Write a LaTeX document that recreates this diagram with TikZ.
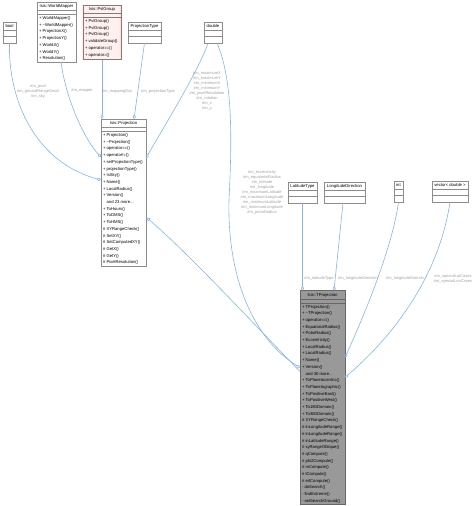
\documentclass[tikz,border=0pt]{standalone}
\usepackage{fontspec}
\setmainfont{Liberation Sans}
\usetikzlibrary{arrows.meta}

\definecolor{edgeblue}{RGB}{135,180,228}
\definecolor{labgray}{RGB}{160,160,160}
\definecolor{boxgray}{RGB}{140,140,140}
\definecolor{mainfill}{RGB}{153,153,153}
\definecolor{mainline}{RGB}{102,102,102}
\definecolor{trunred}{RGB}{230,80,80}
\definecolor{trunfill}{RGB}{255,240,240}
\newcommand\moreitems[1]{\hphantom{+ }and #1 more...}

\begin{document}
\begin{tikzpicture}[x=1pt, y=-1pt, line width=0.5pt,
	every node/.style={inner sep=0pt, outer sep=0pt},
	cls/.style={draw=boxgray, fill=white, anchor=north west},
	ttl/.style={font=\fontsize{4.2}{5}\selectfont, anchor=base},
	mth/.style={font=\fontsize{4.2}{5}\selectfont, anchor=base west},
	lab/.style={font=\fontsize{4}{5}\selectfont, text=labgray, align=center},
	uses/.style={draw=edgeblue, line width=0.6pt, -{Diamond[open, length=4.5pt, width=3.2pt]}},
	isa/.style={draw=edgeblue, line width=0.6pt, -{Triangle[open, length=4.5pt, width=3.6pt]}}]
	\useasboundingbox (0,0) rectangle (474,506);
	% class boxes
	\node[cls, minimum width=13pt, minimum height=21pt] (bool) at (3,22) {};
	\node[cls, minimum width=39pt, minimum height=60pt] (wm) at (37,2) {};
	\node[cls, draw=trunred, fill=trunfill, minimum width=38pt, minimum height=54.5pt] (pvl) at (83,5) {};
	\node[cls, minimum width=33pt, minimum height=21pt] (ptype) at (128,22) {};
	\node[cls, minimum width=18pt, minimum height=21pt] (dbl) at (204,22) {};
	\node[cls, minimum width=45pt, minimum height=147.3pt] (proj) at (101,119) {};
	\node[cls, minimum width=29pt, minimum height=21pt] (lat) at (288,182) {};
	\node[cls, minimum width=41pt, minimum height=21pt] (londir) at (324,182) {};
	\node[cls, minimum width=9pt, minimum height=21pt] (int) at (394,181) {};
	\node[cls, minimum width=36pt, minimum height=21pt] (vecdbl) at (432,181) {};
	\node[cls, draw=mainline, fill=mainfill, minimum width=45pt, minimum height=213.8pt] (tproj) at (300,290.5) {};
	% compartments
	\foreach \c in {bool,ptype,dbl,lat,londir,int,vecdbl}
		\draw[boxgray] ([yshift=-8pt]\c.north west) -- ([yshift=-8pt]\c.north east)
			([yshift=-14.5pt]\c.north west) -- ([yshift=-14.5pt]\c.north east);
	\foreach \c/\col in {wm/boxgray,pvl/trunred,proj/boxgray,tproj/mainline}
		\draw[\col] ([yshift=-8.5pt]\c.north west) -- ([yshift=-8.5pt]\c.north east)
			([yshift=-12.5pt]\c.north west) -- ([yshift=-12.5pt]\c.north east);
	% titles
	\node[ttl] (bool-t) at ([yshift=-5.5pt]bool.north) {bool};
	\node[ttl] (wm-t) at ([yshift=-5.5pt]wm.north) {Isis::WorldMapper};
	\node[ttl] (pvl-t) at ([yshift=-5.5pt]pvl.north) {Isis::PvlGroup};
	\node[ttl] (ptype-t) at ([yshift=-5.5pt]ptype.north) {ProjectionType};
	\node[ttl] (dbl-t) at ([yshift=-5.5pt]dbl.north) {double};
	\node[ttl] (proj-t) at ([yshift=-5.5pt]proj.north) {Isis::Projection};
	\node[ttl] (lat-t) at ([yshift=-5.5pt]lat.north) {LatitudeType};
	\node[ttl] (londir-t) at ([yshift=-5.5pt]londir.north) {LongitudeDirection};
	\node[ttl] (int-t) at ([yshift=-5.5pt]int.north) {int};
	\node[ttl] (vecdbl-t) at ([yshift=-5.5pt]vecdbl.north) {vector< double >};
	\node[ttl] (tproj-t) at ([yshift=-5.5pt]tproj.north) {Isis::TProjection};
	% methods
	\foreach \m [count=\i from 0] in {+ WorldMapper(), + \textasciitilde WorldMapper(), + ProjectionX(), + ProjectionY(), + WorldX(), + WorldY(), + Resolution()}
		\node[mth] (wm-m\i) at ([xshift=2pt, yshift={-17.5pt-6.7pt*\i}]wm.north west) {\m};
	\foreach \m [count=\i from 0] in {+ PvlGroup(), + PvlGroup(), + PvlGroup(), + validateGroup(), + operator==(), + operator=()}
		\node[mth] (pvl-m\i) at ([xshift=2pt, yshift={-17.5pt-6.7pt*\i}]pvl.north west) {\m};
	\foreach \m [count=\i from 0] in {+ Projection(), + \textasciitilde Projection(), + operator==(), + operator!=(), + setProjectionType(), + projectionType(), + IsSky(), + Name(), + LocalRadius(), + Version(), \moreitems{23}, + ToHours(), + ToDMS(), + ToHMS(), \# XYRangeCheck(), \# SetXY(), \# SetComputedXY(), \# GetX(), \# GetY(), \# PixelResolution()}
		\node[mth] (proj-m\i) at ([xshift=2pt, yshift={-17.5pt-6.7pt*\i}]proj.north west) {\m};
	\foreach \m [count=\i from 0] in {+ TProjection(), + \textasciitilde TProjection(), + operator==(), + EquatorialRadius(), + PolarRadius(), + Eccentricity(), + LocalRadius(), + LocalRadius(), + Name(), + Version(), \moreitems{30}, + ToPlanetocentric(), + ToPlanetographic(), + ToPositiveEast(), + ToPositiveWest(), + To180Domain(), + To360Domain(), \# XYRangeCheck(), \# inLongitudeRange(), \# inLongitudeRange(), \# inLatitudeRange(), \# xyRangeOblique(), \# qCompute(), \# phi2Compute(), \# mCompute(), \# tCompute(), \# e4Compute(), - doSearch(), - findExtreme(), - setSearchGround()}
		\node[mth] (tproj-m\i) at ([xshift=2pt, yshift={-17.5pt-6.7pt*\i}]tproj.north west) {\m};
	% members of Isis::Projection
	\draw[uses] (bool.south) .. controls (8,100) and (35,162) .. ([yshift=-61pt]proj.north west);
	\draw[uses] ([xshift=4.5pt]wm.south) .. controls (66,100) and (85,140) .. ([yshift=-38pt]proj.north west);
	\draw[uses] (pvl.south) -- (pvl.south |- proj.north);
	\draw[uses] (ptype.south) -- ([xshift=33pt]proj.north west);
	\draw[uses] ([xshift=-5pt]dbl.south) .. controls (200,68) and (165,125) .. ([yshift=-39pt]proj.north east);
	\node[lab] (l-bool) at (38,91) {\#m\_pool\\\#m\_groundRangeGood\\\#m\_sky};
	\node[lab] (l-wm) at (82,91) {\#m\_mapper};
	\node[lab] (l-pvl) at (117,91) {\#m\_mappingGrp};
	\node[lab] (l-ptype) at (158,91) {\#m\_projectionType};
	\node[lab] (l-dbl) at (207,90.5) {\#m\_maximumX\\\#m\_maximumY\\\#m\_minimumX\\\#m\_minimumY\\\#m\_pixelResolution\\\#m\_rotation\\\#m\_x\\\#m\_y};
	% Isis::TProjection
	\draw[isa] ([yshift=-81pt]tproj.north west) .. controls (250,320) and (190,255) .. ([yshift=-98pt]proj.north east);
	\draw[uses] ([xshift=4pt]dbl.south) .. controls (233,80) and (232,140) .. (229,200) .. controls (227,280) and (255,340) .. ([yshift=-77pt]tproj.north west);
	\draw[uses] (lat.south) -- (lat.south |- tproj.north);
	\draw[uses] ([xshift=-1.5pt]londir.south) -- ([xshift=34pt]tproj.north west);
	\draw[uses] (int.south) .. controls (392,250) and (362,320) .. ([yshift=-67pt]tproj.north east);
	\draw[uses] (vecdbl.south) .. controls (440,270) and (400,330) .. ([yshift=-87pt]tproj.north east);
	\node[lab] (l-dbl2) at (262,192) {\#m\_eccentricity\\\#m\_equatorialRadius\\\#m\_latitude\\\#m\_longitude\\\#m\_maximumLatitude\\\#m\_maximumLongitude\\\#m\_minimumLatitude\\\#m\_minimumLongitude\\\#m\_polarRadius};
	\node[lab] (l-lat) at (319,278) {\#m\_latitudeType};
	\node[lab] (l-londir) at (358,278) {\#m\_longitudeDirection};
	\node[lab] (l-int) at (405,278) {\#m\_longitudeDomain};
	\node[lab] (l-vec) at (453,278.5) {\#m\_specialLatCases\\\#m\_specialLonCases};
\end{tikzpicture}
\end{document}
